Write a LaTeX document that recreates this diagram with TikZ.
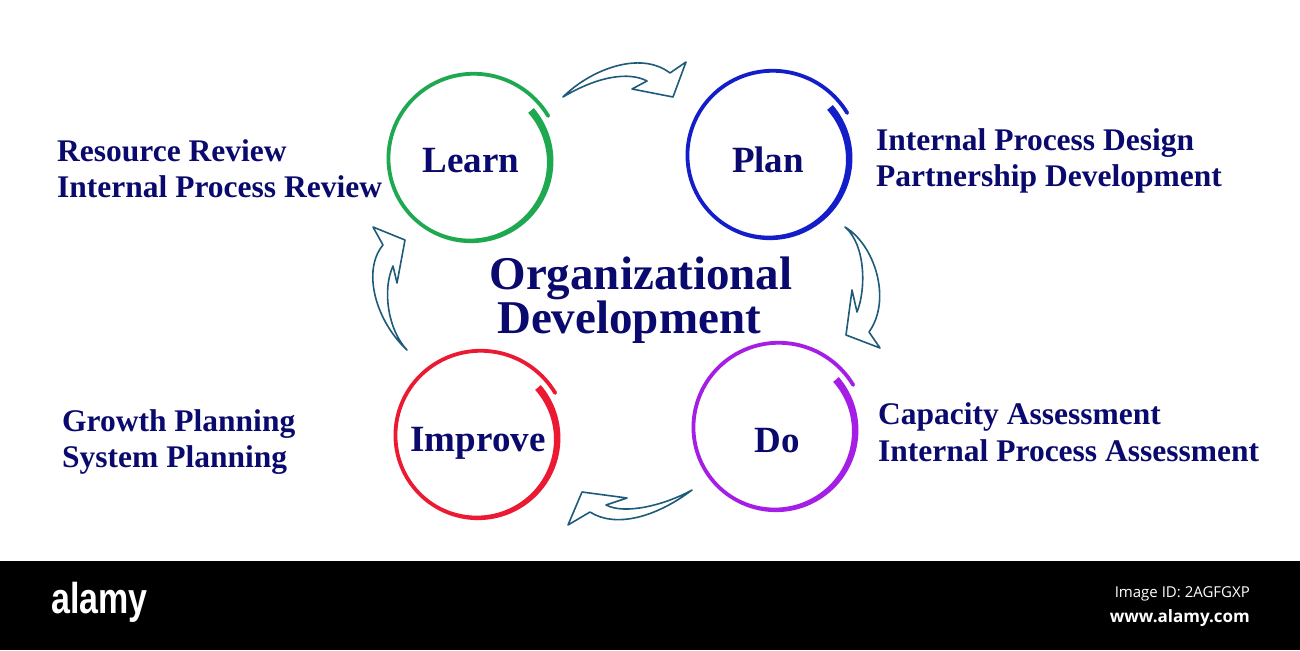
\documentclass[tikz,border=0pt]{standalone}
\usepackage{fontspec}
\setmainfont{Liberation Serif}
\newfontfamily\wmfont{Liberation Sans}
\newfontfamily\idfont{Open Sans}
\definecolor{navy}{RGB}{10,10,110}
\definecolor{ringgreen}{RGB}{30,168,80}
\definecolor{ringblue}{RGB}{20,30,200}
\definecolor{ringred}{RGB}{235,25,50}
\definecolor{ringpurple}{RGB}{165,30,230}
\definecolor{arrowline}{RGB}{30,90,122}
% ring radius r(a)=77+(40-a)*11/370 ; width w(a)=3.8+3.6*max(0,(a+120)/160)
\newcommand{\hoop}[3]{%
  \begin{scope}[shift={(#1,#2)}, y=1pt]
    \fill[#3] plot[smooth, domain=0:370, samples=120]
        ({40-\x}:{77+\x*11/370+0.5*(3.8+3.6*max(0,(160-\x)/160))})
      -- plot[smooth, domain=0:370, samples=120]
        ({-330+\x}:{77+(370-\x)*11/370-0.5*(3.8+3.6*max(0,(\x-210)/160))})
      -- cycle;
    \fill[#3] (-330:88) circle[radius=1.9];
  \end{scope}}
\tikzset{
  circlab/.style={font=\fontsize{37}{37}\selectfont\bfseries, text=navy, inner sep=0pt, anchor=base},
  titletxt/.style={font=\fontsize{47}{47}\selectfont\bfseries, text=navy, inner sep=0pt, anchor=base},
  sidetxt/.style={font=\fontsize{31.5}{31.5}\selectfont\bfseries, text=navy, inner sep=0pt, anchor=base west},
  hollowarrow/.style={draw=arrowline, line width=1.6pt, line join=round, fill=white}
}
\begin{document}
\begin{tikzpicture}[x=1pt,y=-1pt]
\useasboundingbox (0,0) rectangle (1300,650);
\fill[white] (0,0) rectangle (1300,561);
\fill[black] (0,561) rectangle (1300,650);

% rings
\hoop{472}{160}{ringgreen}
\hoop{771}{157}{ringblue}
\hoop{479}{437}{ringred}
\hoop{777}{429}{ringpurple}

% arrows
\draw[hollowarrow] (563,97) .. controls (590,70) and (640,50) .. (670,73)
  -- (686,62) -- (673,97) -- (632,89) -- (647,81)
  .. controls (630,72) and (600,75) .. cycle;
\draw[hollowarrow] (845,227) .. controls (875,245) and (892,300) .. (869,332)
  -- (880,348) -- (846,335) -- (852,290) -- (857,312)
  .. controls (866,290) and (866,245) .. cycle;
\draw[hollowarrow] (692,490) .. controls (655,518) and (615,528) .. (590,512)
  -- (568,525) -- (582,492) -- (627,498) -- (606,505)
  .. controls (625,515) and (665,505) .. cycle;
\draw[hollowarrow] (407,350) .. controls (375,320) and (362,270) .. (383,245)
  -- (373,227) -- (405,240) -- (397,283) -- (393,266)
  .. controls (382,290) and (388,330) .. cycle;

% ring labels
\node[circlab] (learn) at (471,172) {Learn};
\node[circlab] (plan) at (768,172) {Plan};
\node[circlab] (improve) at (478,451) {Improve};
\node[circlab] (do) at (777,452) {Do};

% title
\node[titletxt] (title1) at (641,289) {Organizational};
\node[titletxt] (title2) at (629,333) {Development};

% side texts
\node[sidetxt] (l1) at (57,161) {Resource Review};
\node[sidetxt] (l2) at (57,197) {Internal Process Review};
\node[sidetxt] (p1) at (876,150) {Internal Process Design};
\node[sidetxt] (p2) at (876,186) {Partnership Development};
\node[sidetxt] (i1) at (62,431) {Growth Planning};
\node[sidetxt] (i2) at (62,467) {System Planning};
\node[sidetxt] (d1) at (878,424) {Capacity Assessment};
\node[sidetxt] (d2) at (878,461) {Internal Process Assessment};

% watermark band
\node[anchor=base west, inner sep=0pt, text=white, xscale=0.85, yscale=1.08,
  font=\wmfont\fontsize{40}{40}\selectfont\bfseries] (alamy) at (51,613) {alamy};
\node[anchor=base east, inner sep=0pt, text=white,
  font=\idfont\fontsize{15}{15}\selectfont] (imgid) at (1250,597) {Image ID: 2AGFGXP};
\node[anchor=base east, inner sep=0pt, text=white,
  font=\idfont\fontsize{17}{17}\selectfont\bfseries] (www) at (1250,622) {www.alamy.com};
\end{tikzpicture}
\end{document}
